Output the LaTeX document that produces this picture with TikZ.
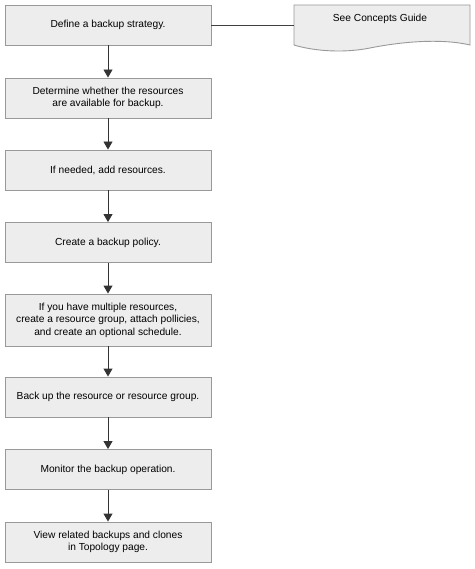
\documentclass[tikz,border=0pt]{standalone}
\usepackage{fontspec}
\setmainfont{Liberation Sans}
\usetikzlibrary{arrows.meta}
\begin{document}
\begin{tikzpicture}[x=1pt,y=-1pt,
  stepbox/.style={draw=black!40,fill=black!7,line width=0.9pt,minimum width=206pt,minimum height=40pt,align=center,font=\fontsize{10.2}{12.6}\selectfont,inner sep=0pt},
  flow/.style={draw=black!80,line width=0.9pt,-{Triangle[length=8pt,width=9pt]}}]
\useasboundingbox (0,0) rectangle (474,569);
\node[stepbox] (b1) at (108,25) {Define a backup strategy.};
\node[stepbox] (b2) at (108,98) {Determine whether the resources\\are available for backup.};
\node[stepbox] (b3) at (108,170) {If needed, add resources.};
\node[stepbox] (b4) at (108,242.5) {Create a backup policy.};
\node[stepbox,minimum height=52pt] (b5) at (108,320) {If you have multiple resources,\\create a resource group, attach pollicies,\\and create an optional schedule.};
\node[stepbox] (b6) at (108,397) {Back up the resource or resource group.};
\node[stepbox] (b7) at (108,469.5) {Monitor the backup operation.};
\node[stepbox] (b8) at (108,542) {View related backups and clones\\in Topology page.};
\draw[draw=black!40,fill=black!7,line width=0.9pt] (294,5) -- (470,5) -- (470,45)
  .. controls (440,38) and (400,42) .. (370,48)
  .. controls (340,54) and (310,50) .. (294,45) -- cycle;
\node[font=\fontsize{10.2}{12.6}\selectfont,inner sep=0pt] (doc) at (380,19) {See Concepts Guide};
\coordinate (docl) at (294,25);
\draw[draw=black!75,line width=0.9pt] (b1.east) -- (docl);
\foreach \a/\b in {b1/b2,b2/b3,b3/b4,b4/b5,b5/b6,b6/b7,b7/b8}
  \draw[flow] (\a.south) -- (\b.north);
\end{tikzpicture}
\end{document}
